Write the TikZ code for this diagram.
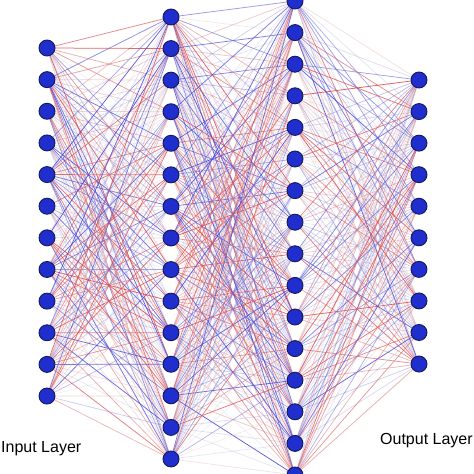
\documentclass[tikz,border=0pt]{standalone}
\usepackage{fontspec}
\setmainfont{Liberation Sans}
\definecolor{nodefill}{RGB}{32,46,205}
\definecolor{nodeline}{RGB}{20,25,90}
\definecolor{wred}{RGB}{225,60,60}
\definecolor{wblue}{RGB}{60,60,215}
\definecolor{wgray}{RGB}{205,205,210}
\pgfdeclarelayer{edges}
\pgfsetlayers{edges,main}
\newcommand\synapse[2]{%
  \pgfmathsetmacro\ww{rnd^1.3}%
  \pgfmathsetmacro\mx{int(20+80*\ww)}%
  \pgfmathsetmacro\op{0.2+0.65*\ww}%
  \pgfmathrandominteger\cc{0}{1}%
  \ifnum\cc=0 \def\ec{wred}\else\def\ec{wblue}\fi
  \draw[weight,draw=\ec!\mx!wgray,draw opacity=\op] (#1.center) -- (#2.center);}
\begin{document}
\begin{tikzpicture}[x=1pt,y=-1pt,
  neuron/.style={circle,fill=nodefill,draw=nodeline,line width=0.9pt,minimum size=16pt,inner sep=0pt},
  weight/.style={line width=0.75pt},
  layerlabel/.style={font=\fontsize{16}{19}\selectfont,inner sep=0pt,anchor=base west}]
\useasboundingbox (0,0) rectangle (474,474);
\pgfmathsetseed{4711}
% neurons
\foreach \k in {1,...,12} \node[neuron] (a\k) at (47,{48+(\k-1)*31.64}) {};
\foreach \k in {1,...,15} \node[neuron] (b\k) at (171,{17+(\k-1)*31.57}) {};
\foreach \k in {1,...,16} \node[neuron] (c\k) at (295,{1+(\k-1)*31.6}) {};
\foreach \k in {1,...,10} \node[neuron] (d\k) at (419,{80+(\k-1)*31.56}) {};
% labels
\node[layerlabel] (inlabel) at (1,452) {Input Layer};
\node[layerlabel] (outlabel) at (380,444) {Output Layer};
% weights
\begin{pgfonlayer}{edges}
\foreach \i in {1,...,12}{\foreach \j in {1,...,15}{\synapse{a\i}{b\j}}}
\foreach \i in {1,...,15}{\foreach \j in {1,...,16}{\synapse{b\i}{c\j}}}
\foreach \i in {1,...,16}{\foreach \j in {1,...,10}{\synapse{c\i}{d\j}}}
\end{pgfonlayer}
\end{tikzpicture}
\end{document}
